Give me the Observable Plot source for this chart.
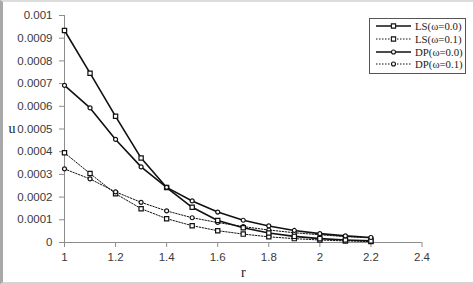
<!DOCTYPE html>
<html>
<head>
<meta charset="utf-8">
<script src="https://cdn.jsdelivr.net/npm/d3@7"></script>
<script src="https://cdn.jsdelivr.net/npm/@observablehq/plot@0.6"></script>
<style>
  body { margin: 0; background: #fff; }
  #wrap { position: relative; width: 474px; height: 284px; overflow: hidden; background: #fff; }
  #border { position: absolute; left: 0; top: 0; width: 470px; height: 280px;
            border-top: 2px solid #dcdcdc; border-right: 2px solid #d4d4d4;
            border-bottom: 2px solid #d4d4d4; border-left: 3px solid #a8a8a8; box-sizing: content-box; pointer-events: none; }
  #legend { position: absolute; left: 369px; top: 18px; width: 95px; height: 53px;
            border: 1px solid #555; background: #fff; font-family: "Liberation Serif", serif;
            font-size: 10.8px; color: #222; box-sizing: content-box; padding-top: 1px; }
  .row { display: flex; align-items: center; height: 12.7px; }
  .row svg { margin-left: 6px; margin-right: 4px; }
</style>
</head>
<body>
<div id="wrap">
  <div id="chart"></div>
  <div id="legend"></div>
  <div id="border"></div>
</div>
<script>
const rValues = [1, 1.1, 1.2, 1.3, 1.4, 1.5, 1.6, 1.7, 1.8, 1.9, 2.0, 2.1, 2.2];
const seriesNames = ["LS(ω=0.0)", "LS(ω=0.1)", "DP(ω=0.0)", "DP(ω=0.1)"];
const ls00 = [0.000934, 0.000746, 0.000556, 0.000372, 0.000242, 0.000155, 0.000097, 0.000065, 0.000042, 0.000027, 0.000017, 0.000011, 0.000007];
const ls01 = [0.000395, 0.000304, 0.000215, 0.000149, 0.000105, 0.000074, 0.000052, 0.000037, 0.000025, 0.000017, 0.000011, 0.000007, 0.000004];
const dp00 = [0.000692, 0.000593, 0.000454, 0.000333, 0.000243, 0.000183, 0.000134, 0.000098, 0.000073, 0.000053, 0.000039, 0.000029, 0.000022];
const dp01 = [0.000324, 0.000280, 0.000223, 0.000177, 0.000139, 0.000109, 0.000088, 0.000070, 0.000055, 0.000043, 0.000034, 0.000026, 0.000020];
const xTicks = [1, 1.2, 1.4, 1.6, 1.8, 2, 2.2, 2.4];
const yTicks = [0, 0.0001, 0.0002, 0.0003, 0.0004, 0.0005, 0.0006, 0.0007, 0.0008, 0.0009, 0.001];

const allSeries = [ls00, ls01, dp00, dp01];
const styles = [
  {dash: null, width: 1.6, symbol: "square", r: 2.4},
  {dash: "1.5,1.5", width: 1, symbol: "square", r: 2.4},
  {dash: null, width: 1.6, symbol: "circle", r: 2.0},
  {dash: "1.5,1.5", width: 1, symbol: "circle", r: 2.0}
];
const tables = allSeries.map((vals, i) => rValues.map((r, j) => ({r, u: vals[j], series: seriesNames[i]})));

const order = [1, 3, 0, 2];
const seriesMarks = [];
for (const i of order) {
  const s = styles[i];
  seriesMarks.push(Plot.line(tables[i], {x: "r", y: "u", stroke: "#111", strokeWidth: s.width, strokeDasharray: s.dash || undefined}));
}
for (const i of order) {
  const s = styles[i];
  seriesMarks.push(Plot.dot(tables[i], {x: "r", y: "u", symbol: () => s.symbol, r: s.r, fill: "white", stroke: "#111", strokeWidth: 1.2}));
}

const fmtY = d => d === 0 ? "0" : String(+d.toFixed(4));

const chart = Plot.plot({
  width: 474,
  height: 284,
  marginLeft: 64,
  marginRight: 52.5,
  marginTop: 15,
  marginBottom: 42,
  style: {fontFamily: "Liberation Sans, Arial, sans-serif", fontSize: "11.5px", color: "#3a3a3a", background: "transparent"},
  x: {domain: [1, 2.4]},
  y: {domain: [0, 0.001]},
  marks: [
    Plot.ruleY([0], {stroke: "#8c8c8c"}),
    Plot.ruleX([1], {stroke: "#8c8c8c"}),
    Plot.axisY({ticks: yTicks, tickSize: 5, tickPadding: 7, tickFormat: fmtY, stroke: "#8c8c8c", label: null}),
    Plot.axisX({ticks: xTicks, tickSize: 5, tickPadding: 5, tickFormat: d => String(d), stroke: "#8c8c8c", label: null}),
    ...seriesMarks,
    Plot.text(["u"], {frameAnchor: "left", dx: -56, text: d => d, fontFamily: "Liberation Serif, serif", fontSize: 14, fill: "#222"}),
    Plot.text(["r"], {frameAnchor: "bottom", dy: 34, text: d => d, fontFamily: "Liberation Serif, serif", fontSize: 14, fill: "#222"})
  ]
});
document.getElementById("chart").appendChild(chart);

// Legend
const legend = document.getElementById("legend");
seriesNames.forEach((name, i) => {
  const s = styles[i];
  const row = document.createElement("div");
  row.className = "row";
  const ns = "http://www.w3.org/2000/svg";
  const svg = document.createElementNS(ns, "svg");
  svg.setAttribute("width", 35); svg.setAttribute("height", 10);
  const line = document.createElementNS(ns, "line");
  line.setAttribute("x1", 0); line.setAttribute("x2", 35); line.setAttribute("y1", 5); line.setAttribute("y2", 5);
  line.setAttribute("stroke", "#111"); line.setAttribute("stroke-width", s.width);
  if (s.dash) line.setAttribute("stroke-dasharray", s.dash);
  svg.appendChild(line);
  const sym = document.createElementNS(ns, "path");
  const sz = s.r * s.r * Math.PI;
  const symType = s.symbol === "square" ? d3.symbolSquare : d3.symbolCircle;
  sym.setAttribute("d", d3.symbol(symType, sz)());
  sym.setAttribute("transform", "translate(17.5,5)");
  sym.setAttribute("fill", "white"); sym.setAttribute("stroke", "#111"); sym.setAttribute("stroke-width", 1.1);
  svg.appendChild(sym);
  row.appendChild(svg);
  const t = document.createElement("span");
  t.textContent = name;
  row.appendChild(t);
  legend.appendChild(row);
});
</script>
</body>
</html>
